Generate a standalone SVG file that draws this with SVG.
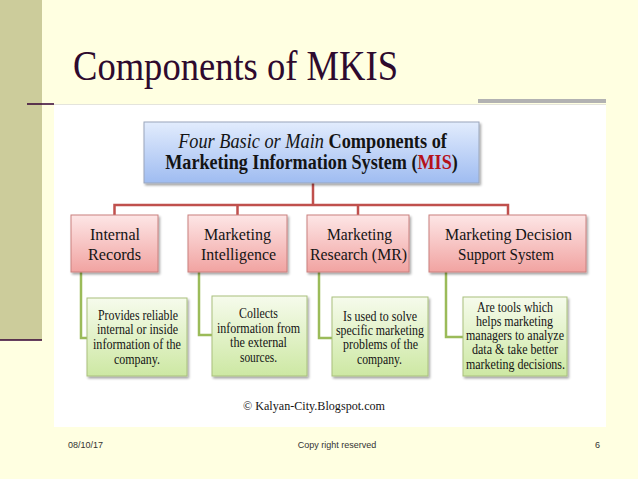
<svg xmlns="http://www.w3.org/2000/svg" width="638" height="479" viewBox="0 0 638 479">
<defs>
<linearGradient id="gBlue" x1="0" y1="0" x2="0" y2="1"><stop offset="0" stop-color="#e2ecfd"/><stop offset="1" stop-color="#9fbcf1"/></linearGradient>
<linearGradient id="gRed" x1="0" y1="0" x2="0" y2="1"><stop offset="0" stop-color="#fde6e6"/><stop offset="1" stop-color="#f1a3a1"/></linearGradient>
<linearGradient id="gGreen" x1="0" y1="0" x2="0" y2="1"><stop offset="0" stop-color="#f6fbec"/><stop offset="1" stop-color="#cde8a3"/></linearGradient>
<filter id="sh" x="-10%" y="-10%" width="125%" height="130%"><feDropShadow dx="1.5" dy="2" stdDeviation="1.2" flood-color="#000" flood-opacity="0.35"/></filter>
</defs>
<style>
.serif{font-family:"Liberation Serif","DejaVu Serif","Times New Roman",Tinos,serif;fill:#141414}
.sans{font-family:"Liberation Sans","DejaVu Sans",Arial,sans-serif;fill:#333;font-size:9px}
.rc{font-size:17px}
.gc{font-size:14px}
.red{stroke:#c0504d;stroke-width:2.5;fill:none}
.grn{stroke:#9bbb59;stroke-width:2.5;fill:none}
.bb{fill:url(#gBlue);stroke:#9aa6bb;stroke-width:1;filter:url(#sh)}
.rb{fill:url(#gRed);stroke:#c9807e;stroke-width:1;filter:url(#sh)}
.gb{fill:url(#gGreen);stroke:#a9c07c;stroke-width:1;filter:url(#sh)}
</style>
<rect width="638" height="479" fill="#ffffe1"/>
<rect x="0" y="0" width="42" height="340" fill="#cccc9b"/>
<line x1="0" y1="340" x2="42" y2="340" stroke="#330033" stroke-width="1.5"/>
<text class="serif" x="73" y="80" font-size="42" style="fill:#2e0a2e" textLength="325" lengthAdjust="spacingAndGlyphs">Components of MKIS</text>
<rect x="54" y="104" width="552" height="323" fill="#ffffff"/>
<line x1="54" y1="104.5" x2="606" y2="104.5" stroke="#e4e4dc" stroke-width="1"/>
<line x1="27" y1="104" x2="54" y2="104" stroke="#330033" stroke-width="1.5"/>
<rect x="478" y="99" width="128" height="4" fill="#b2b2b2"/>

<g id="connectors">
<path class="red" d="M313,183 V205 M114.5,215 V205 H508 V215 M237.5,205 V215 M358,205 V215"/>
<path class="grn" d="M81,272 V338 H87"/>
<path class="grn" d="M199,272 V335 H212"/>
<path class="grn" d="M319,272 V338 H332"/>
<path class="grn" d="M446,272 V337 H463"/>
</g>

<g id="root">
<rect class="bb" x="144" y="122" width="335" height="61"/>
<text class="serif" transform="translate(312.5,148) scale(0.915,1)" x="0" y="0" font-size="20" text-anchor="middle"><tspan font-style="italic">Four Basic or Main </tspan><tspan font-weight="bold">Components of</tspan></text>
<text class="serif" transform="translate(311.5,169) scale(0.907,1)" x="0" y="0" font-size="20" font-weight="bold" text-anchor="middle">Marketing Information System (<tspan style="fill:#b5121b">MIS</tspan>)</text>
</g>

<g id="internal-records">
<rect class="rb" x="71" y="215" width="87" height="57"/>
<text class="serif rc" x="115" y="240" text-anchor="middle" textLength="50" lengthAdjust="spacingAndGlyphs">Internal</text>
<text class="serif rc" x="114.5" y="260" text-anchor="middle" textLength="53" lengthAdjust="spacingAndGlyphs">Records</text>
</g>
<g id="marketing-intelligence">
<rect class="rb" x="188" y="215" width="99" height="57"/>
<text class="serif rc" x="237.5" y="240" text-anchor="middle" textLength="67" lengthAdjust="spacingAndGlyphs">Marketing</text>
<text class="serif rc" x="238.5" y="260" text-anchor="middle" textLength="75" lengthAdjust="spacingAndGlyphs">Intelligence</text>
</g>
<g id="marketing-research">
<rect class="rb" x="307" y="215" width="102" height="57"/>
<text class="serif rc" x="359.5" y="240" text-anchor="middle" textLength="65" lengthAdjust="spacingAndGlyphs">Marketing</text>
<text class="serif rc" x="358.5" y="260" text-anchor="middle" textLength="97" lengthAdjust="spacingAndGlyphs">Research (MR)</text>
</g>
<g id="mdss">
<rect class="rb" x="429" y="215" width="157" height="57"/>
<text class="serif rc" x="508.5" y="240" text-anchor="middle" textLength="127" lengthAdjust="spacingAndGlyphs">Marketing Decision</text>
<text class="serif rc" x="506" y="260" text-anchor="middle" textLength="96" lengthAdjust="spacingAndGlyphs">Support System</text>
</g>

<g id="desc-internal">
<rect class="gb" x="87" y="298" width="100" height="78"/>
<text class="serif gc" x="138" y="320" text-anchor="middle" textLength="80" lengthAdjust="spacingAndGlyphs">Provides reliable</text>
<text class="serif gc" x="137.5" y="334" text-anchor="middle" textLength="81" lengthAdjust="spacingAndGlyphs">internal or inside</text>
<text class="serif gc" x="137" y="349" text-anchor="middle" textLength="88" lengthAdjust="spacingAndGlyphs">information of the</text>
<text class="serif gc" x="137" y="364" text-anchor="middle" textLength="46" lengthAdjust="spacingAndGlyphs">company.</text>
</g>
<g id="desc-intelligence">
<rect class="gb" x="212" y="296" width="95" height="80"/>
<text class="serif gc" x="258.5" y="318" text-anchor="middle" textLength="39" lengthAdjust="spacingAndGlyphs">Collects</text>
<text class="serif gc" x="258.5" y="333" text-anchor="middle" textLength="83" lengthAdjust="spacingAndGlyphs">information from</text>
<text class="serif gc" x="258.5" y="347" text-anchor="middle" textLength="57" lengthAdjust="spacingAndGlyphs">the external</text>
<text class="serif gc" x="258.5" y="362" text-anchor="middle" textLength="37" lengthAdjust="spacingAndGlyphs">sources.</text>
</g>
<g id="desc-research">
<rect class="gb" x="332" y="297" width="96" height="79"/>
<text class="serif gc" x="380" y="321" text-anchor="middle" textLength="74" lengthAdjust="spacingAndGlyphs">Is used to solve</text>
<text class="serif gc" x="380" y="335" text-anchor="middle" textLength="88" lengthAdjust="spacingAndGlyphs">specific marketing</text>
<text class="serif gc" x="380.5" y="349" text-anchor="middle" textLength="75" lengthAdjust="spacingAndGlyphs">problems  of the</text>
<text class="serif gc" x="379.5" y="364" text-anchor="middle" textLength="45" lengthAdjust="spacingAndGlyphs">company.</text>
</g>
<g id="desc-mdss">
<rect class="gb" x="463" y="297" width="104" height="79"/>
<text class="serif gc" x="515" y="312" text-anchor="middle" textLength="76" lengthAdjust="spacingAndGlyphs">Are tools which</text>
<text class="serif gc" x="514.5" y="326" text-anchor="middle" textLength="77" lengthAdjust="spacingAndGlyphs">helps marketing</text>
<text class="serif gc" x="515" y="340" text-anchor="middle" textLength="98" lengthAdjust="spacingAndGlyphs">managers to analyze</text>
<text class="serif gc" x="515" y="354" text-anchor="middle" textLength="86" lengthAdjust="spacingAndGlyphs">data &amp; take better</text>
<text class="serif gc" x="515.5" y="369" text-anchor="middle" textLength="99" lengthAdjust="spacingAndGlyphs">marketing decisions.</text>
</g>

<text class="serif" x="314" y="410" font-size="13" text-anchor="middle" textLength="142" lengthAdjust="spacingAndGlyphs">© Kalyan-City.Blogspot.com</text>

<text class="sans" x="68" y="448">08/10/17</text>
<text class="sans" x="337" y="448" text-anchor="middle">Copy right reserved</text>
<text class="sans" x="600" y="448" text-anchor="end">6</text>
</svg>
